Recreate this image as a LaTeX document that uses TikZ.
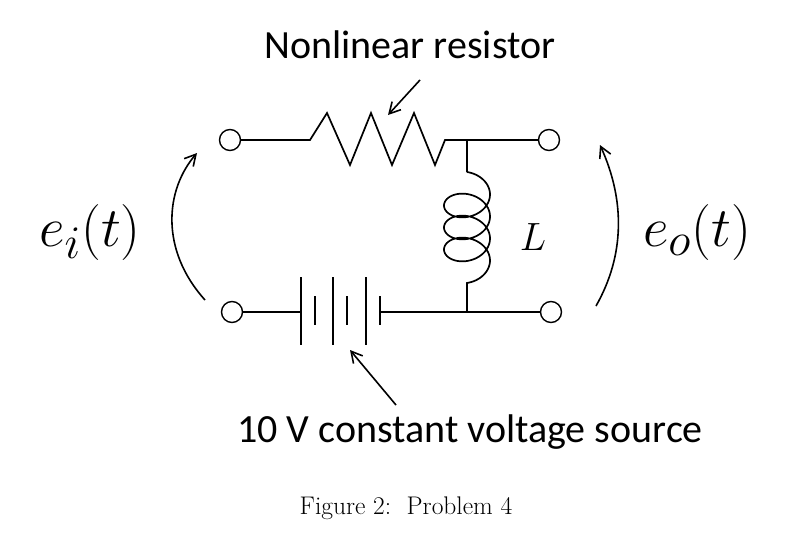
\documentclass[tikz,border=0pt]{standalone}
\usepackage{fontspec}
\newfontfamily\carl{Carlito}
\usetikzlibrary{arrows.meta}
\begin{document}
\begin{tikzpicture}[x=1pt,y=-1pt,line width=1.7pt,
  term/.style={circle,draw,line width=1.4pt,minimum size=21pt,inner sep=0pt},
  lbl/.style={font=\carl\fontsize{40}{44}\selectfont},
  arr/.style={-{Straight Barb[length=11pt,width=12pt]},line width=1.6pt}]
\useasboundingbox (0,0) rectangle (790,552);
\node[term] (a) at (230,140) {};
\node[term] (b) at (549,140) {};
\node[term] (c) at (232,312) {};
\node[term] (d) at (551,312) {};
\coordinate (j1) at (467,140);
\coordinate (j2) at (467,312);
\draw (a) -- (310,140) -- (327,113) -- (350,165) -- (371,113) -- (392,165) -- (414,113) -- (435,165) -- (445,140) -- (j1) -- (b);
\draw (j1) -- (467,172) plot[domain=0:1260,samples=220,smooth] ({467+23*sin(\x)},{172+0.0611*\x+17*(1-cos(\x))}) -- (j2);
\draw (c) -- (301,312);
\draw (301,277) -- (301,345) (333,277) -- (333,345) (366,277) -- (366,345);
\draw (315,296) -- (315,325) (347,296) -- (347,325) (380,296) -- (380,325);
\draw (380,312) -- (j2) -- (d);
\node[lbl] (nl) at (410,45) {Nonlinear resistor};
\node[lbl] (vs) at (470,432) {10 V constant voltage source};
\draw[arr] (420,80) -- (388,115);
\draw[arr] (396,405) -- (350,350);
\node[font=\fontsize{24.88}{28}\selectfont,scale=2.25] (ei) at (90,233) {$e_i(t)$};
\node[font=\fontsize{20.74}{24}\selectfont,scale=1.9] (L) at (533,237) {$L$};
\node[font=\fontsize{24.88}{28}\selectfont,scale=2.25] (eo) at (697,233) {$e_o(t)$};
\draw[arr] (205,300) .. controls (160,250) and (165,190) .. (197,153);
\draw[arr] (596,306) .. controls (625,255) and (625,200) .. (600,145);
\node[font=\fontsize{25.5}{28}\selectfont] (cap) at (406,508) {Figure 2:\ \ Problem 4};
\end{tikzpicture}
\end{document}
